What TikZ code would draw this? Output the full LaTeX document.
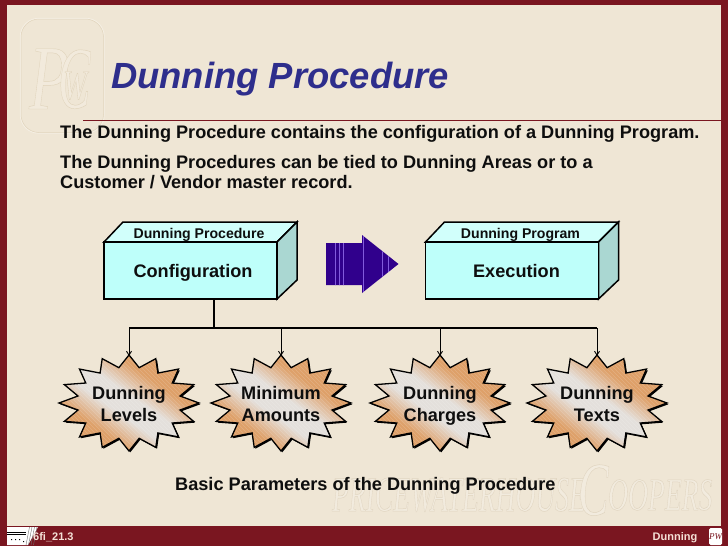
\documentclass[tikz,border=0pt]{standalone}
\usepackage{fontspec}
\setmainfont{Liberation Sans}
\newfontfamily\wmfont{Liberation Serif}
\usetikzlibrary{arrows.meta}
\definecolor{bgc}{RGB}{239,230,213}
\definecolor{framec}{RGB}{122,22,32}
\definecolor{titlec}{RGB}{46,46,140}
\definecolor{boxf}{RGB}{190,255,250}
\definecolor{boxs}{RGB}{170,215,210}
\definecolor{arrowc}{RGB}{48,0,140}
\definecolor{stripec}{RGB}{130,90,220}
\definecolor{orng}{RGB}{222,160,105}
\definecolor{silv}{RGB}{228,224,220}
\definecolor{embl}{RGB}{245,239,228}
\definecolor{embd}{RGB}{224,211,186}
\definecolor{foot}{RGB}{245,225,215}
\definecolor{inkc}{RGB}{14,14,14}
\pgfdeclarehorizontalshading{burst}{100bp}{
 color(0bp)=(orng);color(33bp)=(orng);color(44bp)=(silv);color(53bp)=(silv);color(64bp)=(orng);color(100bp)=(orng)}
% outlined watermark text, as one text: fill and stroke in faint tints
\newcommand{\logotext}[1]{\special{pdf:code 0.949 0.918 0.863 rg 0.878 0.827 0.729 RG 2 Tr 0.45 w}#1\special{pdf:code 0 Tr}}
\newcommand{\nametext}[1]{\special{pdf:code 0.949 0.922 0.871 rg 0.88 0.83 0.75 RG 2 Tr 0.5 w}#1\special{pdf:code 0 Tr}}
\tikzset{
 x=1pt,y=-1pt,
 body/.style={font=\fontsize{18.15}{20}\selectfont\bfseries,anchor=base west,inner sep=0pt,text=inkc},
 boxcap/.style={font=\fontsize{14.1}{16}\selectfont\bfseries,anchor=base,inner sep=0pt,text=inkc},
 boxmain/.style={font=\fontsize{18.15}{20}\selectfont\bfseries,anchor=base,inner sep=0pt,text=inkc},
 startext/.style={font=\fontsize{18.15}{22}\selectfont\bfseries,align=center,inner sep=0pt,text=inkc,text depth=5pt},
 boxline/.style={draw=black,line width=1.5pt,line join=miter},
 link/.style={draw=black,line width=1.3pt},
 drop/.style={draw=black,line width=.9pt,-{Straight Barb[length=4pt,width=5pt]}},
 foottext/.style={font=\fontsize{11}{12}\selectfont\bfseries,text=foot,anchor=base west,inner sep=0pt},
 wm/.style={inner sep=0pt,anchor=base west},
}
\newcommand{\starpath}{(90:70 and 48)
   \foreach \i in {1,...,31}{ -- ({90-\i*11.25}:{ifthenelse(mod(\i,2)==0,70,52)} and {ifthenelse(mod(\i,2)==0,48,36)})} -- cycle}
% \burststar{centre x}{centre y}{name}
\newcommand{\burststar}[3]{%
 \begin{scope}[shift={(#1,#2)}]
  \fill[black,shift={(1.3,1.3)}] \starpath;
  \path[shade,shading=burst,shading angle=55] \starpath;
  \begin{scope}
   \clip \starpath;
   \foreach \k in {-120,-116,...,120} \draw[white,opacity=.16,line width=.7pt] (\k-60,-60) -- (\k+60,60);
  \end{scope}
  \path[draw=black,line width=1.3pt,line join=miter] \starpath;
  \coordinate (#3) at (0,-47);
 \end{scope}}
% \prismbox{x left}{name}{caption}{main text}{main text x}
\newcommand{\prismbox}[5]{%
 \begin{scope}[shift={(#1,0)}]
  \path[boxline,fill=boxf!70!white] (19,222) -- (193,222) -- (173,242) -- (0,242) -- cycle;
  \path[boxline,fill=boxs] (173,242) -- (193,222) -- (193,280) -- (173,299) -- cycle;
  \path[boxline,fill=boxf] (0,242) rectangle (173,299);
  \node[boxcap] (#2cap) at (95,238) {#3};
  \node[boxmain] (#2) at (#5,277) {#4};
  \coordinate (#2s) at (110,299);
 \end{scope}}
\begin{document}
\begin{tikzpicture}
\useasboundingbox (0,0) rectangle (728,546);
\fill[bgc] (0,0) rectangle (728,546);
% watermark logo
\draw[embl,line width=1.2pt,rounded corners=18pt] (20.5,18.5) rectangle (104,133);
\draw[embd,line width=.5pt,rounded corners=18pt] (21,19) rectangle (103.5,132.5);
\node[wm,xscale=.72,transform shape] (wmP) at (29,109) {\wmfont\itshape\fontsize{92}{92}\selectfont\logotext{P}};
\node[wm,xscale=.55,transform shape] (wmC) at (58,108) {\wmfont\itshape\fontsize{88}{88}\selectfont\logotext{C}};
\node[wm,xscale=.68,transform shape] (wmW) at (63,99) {\wmfont\itshape\fontsize{42}{42}\selectfont\logotext{W}};
% watermark name
\node[wm,xscale=.55,transform shape] (name) at (332,511) {\wmfont\itshape\fontsize{50}{50}\selectfont\nametext{PRICEWATERHOUSE}};
\node[wm,xscale=.6,transform shape] (bigc) at (578,515) {\wmfont\itshape\fontsize{76}{76}\selectfont\nametext{C}};
\node[wm,xscale=.6,transform shape] (oop) at (608,510) {\wmfont\itshape\fontsize{46}{46}\selectfont\nametext{OOPERS}};
% frame
\fill[framec] (0,0) rectangle (728,5);
\fill[framec] (0,0) rectangle (7,546);
\fill[framec] (721,0) rectangle (728,546);
\fill[framec] (0,526) rectangle (728,546);
% title
\node[anchor=base west,inner sep=0pt,text=titlec,font=\fontsize{36.4}{40}\selectfont\bfseries\itshape] (title) at (111,88) {Dunning Procedure};
\draw[framec,line width=.8pt] (83,120.5) -- (721,120.5);
% body
\node[body] (l1) at (60,138) {The Dunning Procedure contains the configuration of a Dunning Program.};
\node[body] (l2) at (60,168) {The Dunning Procedures can be tied to Dunning Areas or to a};
\node[body] (l3) at (60,188) {Customer / Vendor master record.};
% boxes
\prismbox{104}{conf}{Dunning Procedure}{Configuration}{89}
\prismbox{425.5}{exec}{Dunning Program}{Execution}{91}
% arrow
\fill[arrowc] (326,243) -- (362,243) -- (362,235) -- (398.5,264) -- (362,293) -- (362,285) -- (326,285) -- cycle;
\begin{scope}
 \clip (326,243) -- (362,243) -- (362,235) -- (398.5,264) -- (362,293) -- (362,285) -- (326,285) -- cycle;
 \foreach \xx in {335,339,343,363,382,388} \draw[stripec,line width=.5pt] (\xx,235) -- (\xx,293);
\end{scope}
% stars
\burststar{129}{403}{a}
\burststar{281}{403}{b}
\burststar{440}{403}{c1}
\burststar{597}{403}{d}
\node[startext] (sa) at (129,406) {Dunning\\Levels};
\node[startext] (sb) at (281,406) {Minimum\\Amounts};
\node[startext] (sc) at (440,406) {Dunning\\Charges};
\node[startext] (sd) at (597,406) {Dunning\\Texts};
% connectors
\coordinate (bus) at (214,328);
\coordinate (busL) at (129,328);
\coordinate (busB) at (281,328);
\coordinate (busC) at (440,328);
\coordinate (busR) at (597,328);
\draw[link] (confs) -- (bus);
\draw[link] (busL) -- (busR);
\draw[drop] (busL) -- (a);
\draw[drop] (busB) -- (b);
\draw[drop] (busC) -- (c1);
\draw[drop] (busR) -- (d);
% caption
\node[anchor=base west,inner sep=0pt,text=inkc,font=\fontsize{18.15}{20}\selectfont\bfseries] (cap) at (175,490) {Basic Parameters of the Dunning Procedure};
% footer
\fill[white] (7,527) -- (38,527) -- (28,545) -- (7,545) -- cycle;
\draw[black,line width=.5pt] (7,532) -- (26,532);
\draw[black,line width=.5pt] (7,534) -- (26,534);
\fill[black] (11,539) rectangle (12,540) (15,539) rectangle (16,540) (19,539) rectangle (20,540) (23,541) rectangle (24,542);
\foreach \k in {0,2.5,...,7.5} \draw[black!55,line width=.4pt] (26+\k,545) -- (29.5+\k,527);
\node[foottext] (fl) at (33,540) {6fi\_21.3};
\node[foottext] (fr) at (652.5,540) {Dunning};
\fill[white,rounded corners=1.5pt] (709,528) rectangle (722,545);
\node[inner sep=0pt,text=framec,font=\wmfont\itshape\fontsize{9}{9}\selectfont] (fi) at (715.5,536.5) {PW};
\end{tikzpicture}
\end{document}
